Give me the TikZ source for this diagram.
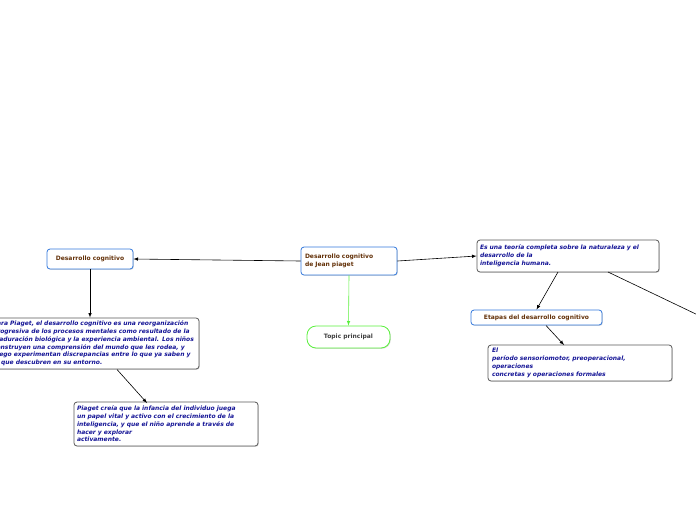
\documentclass[tikz,border=0pt]{standalone}
\usepackage{fontspec}
\setmainfont{DejaVu Sans}
\usetikzlibrary{shadows}
\definecolor{ttl}{RGB}{100,50,10}
\definecolor{txt}{RGB}{20,20,150}
\definecolor{bl}{RGB}{50,120,220}
\definecolor{gr}{RGB}{90,240,60}
\begin{document}
\begin{tikzpicture}[x=1pt,y=-1pt,
  base/.style={rounded corners=3pt,fill=white,line width=0.8pt,inner sep=0pt,drop shadow={shadow xshift=0.8pt,shadow yshift=-0.8pt,opacity=0.3}},
  title/.style={base,draw=bl,font=\fontsize{6}{8}\selectfont\bfseries,text=ttl,align=left},
  info/.style={base,draw=black!65,font=\fontsize{6}{7.8}\selectfont\bfseries\itshape,text=txt,align=left},
  con/.style={-latex,line width=0.6pt}]
\useasboundingbox (0,0) rectangle (696,520);
\begin{scope}
\clip (0,0) rectangle (696,520);
\node[title,minimum width=96,minimum height=28,text width=88] (c) at (349,261) {Desarrollo cognitivo\\de Jean piaget};
\node[title,minimum width=86,minimum height=20] (l1) at (90,259) {Desarrollo cognitivo};
\node[info,minimum width=206,minimum height=51,text width=206] (l2) at (96,343.5) {Para Piaget, el desarrollo cognitivo es una reorganización\\progresiva de los procesos mentales como resultado de la\\maduración biológica y la experiencia ambiental. Los niños\\construyen una comprensión del mundo que les rodea, y\\luego experimentan discrepancias entre lo que ya saben y\\lo que descubren en su entorno.};
\node[info,minimum width=184,minimum height=44,text width=178] (l3) at (166,424) {Piaget creía que la infancia del individuo juega\\un papel vital y activo con el crecimiento de la\\inteligencia, y que el niño aprende a través de\\hacer y explorar\\activamente.};
\node[base,draw=gr,rounded corners=9pt,minimum width=83,minimum height=22,font=\fontsize{6}{8}\selectfont\bfseries,text=black!75] (t) at (348.5,337) {Topic principal};
\node[info,minimum width=182,minimum height=32,text width=176] (r1) at (568,256) {Es una teoría completa sobre la naturaleza y el\\desarrollo de la\\inteligencia humana.};
\node[title,minimum width=131,minimum height=15] (e) at (536.5,317.5) {Etapas del desarrollo cognitivo};
\node[info,minimum width=184,minimum height=36,text width=176] (r3) at (580,363) {El\\período sensoriomotor, preoperacional,\\operaciones\\concretas y operaciones formales};
\coordinate (off) at (700,316);
\end{scope}
\draw[con] (c.west) -- (l1.east);
\draw[con] (l1.south) -- (l2.north -| l1.south);
\draw[con] (117,369.5) -- (147,403);
\draw[con,draw=gr,-latex] (c.south) -- (t.north);
\draw[con] (c.east) -- (r1.west);
\draw[con] (558,272) -- (e.north);
\draw[con] (546,325.5) -- (564,345);
\draw[line width=0.6pt] (608,272) -- (off);
\end{tikzpicture}
\end{document}
